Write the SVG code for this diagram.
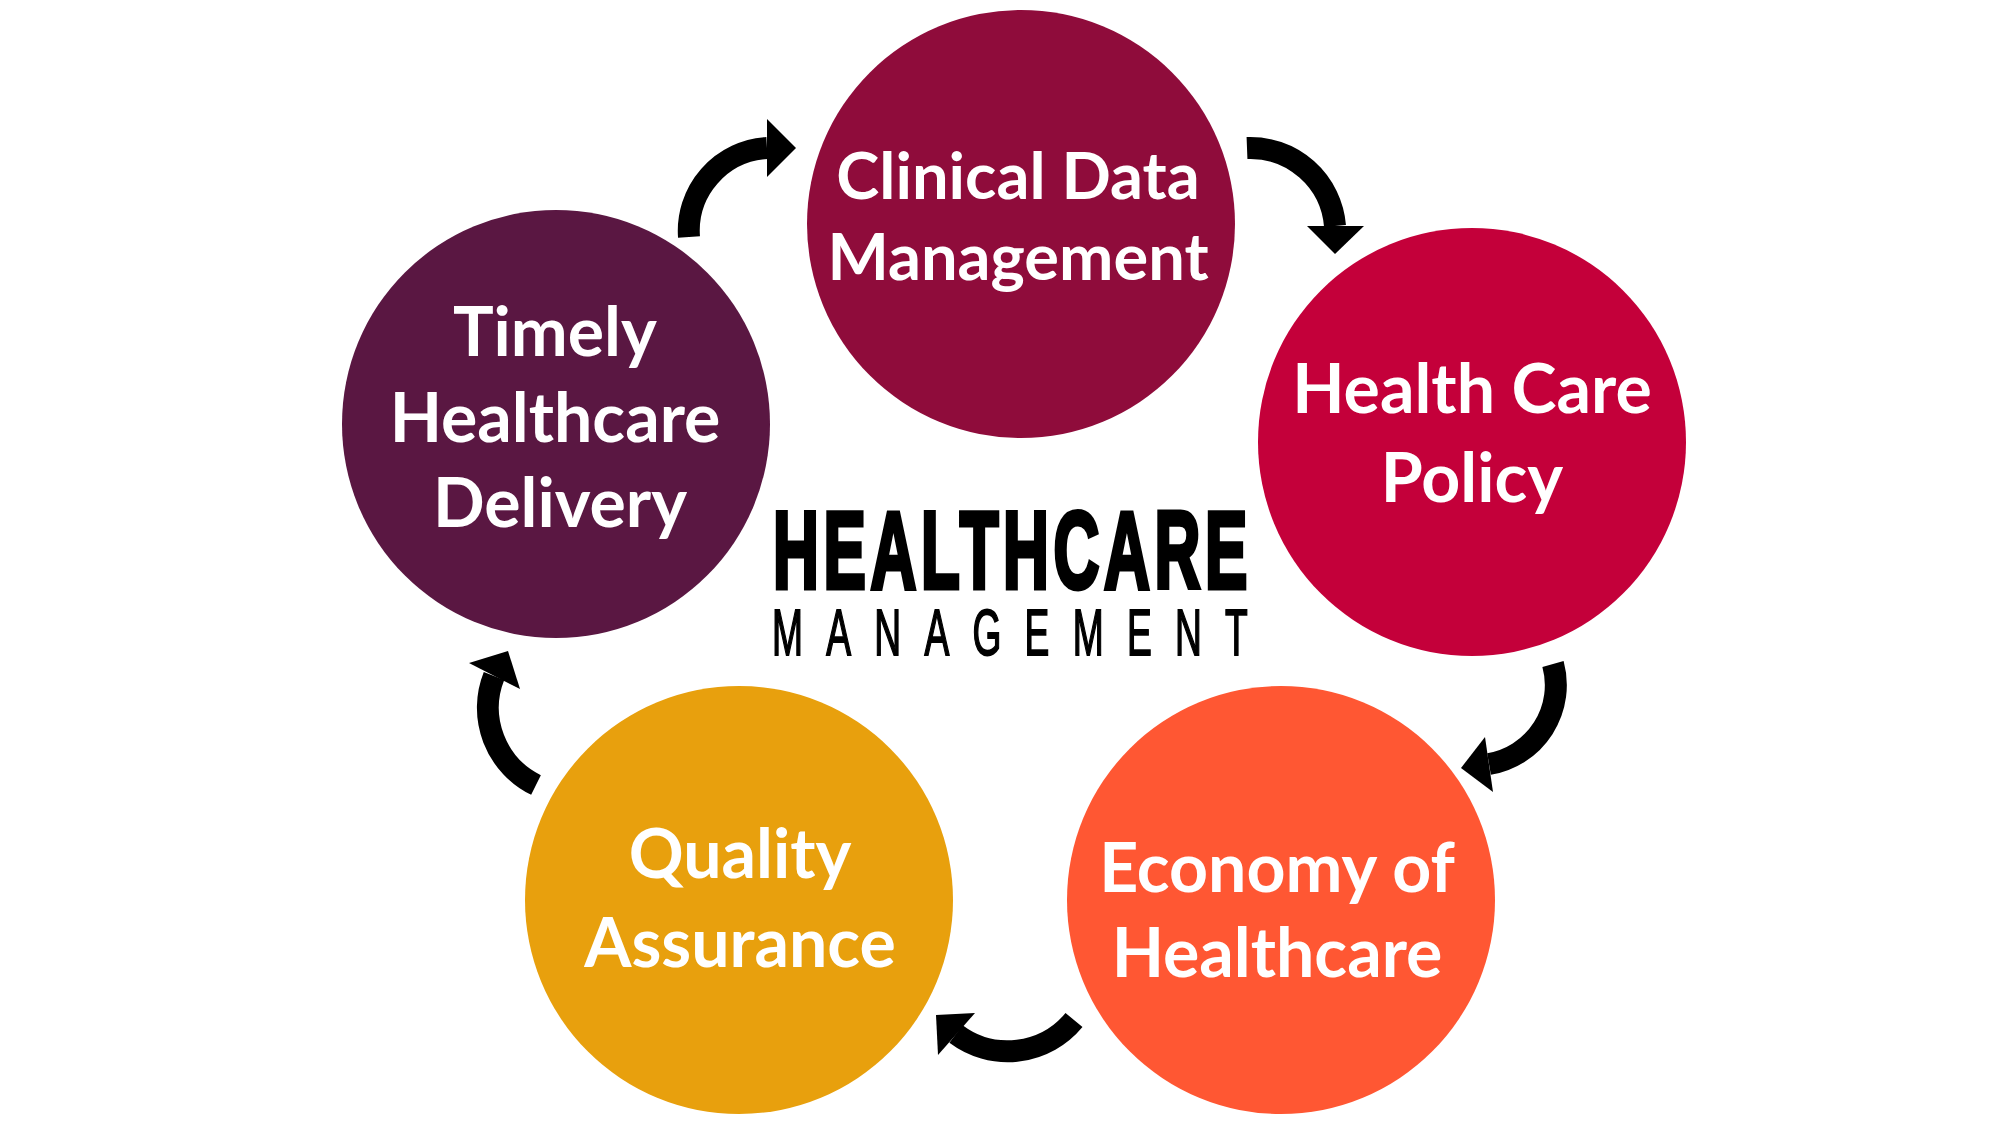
<svg xmlns="http://www.w3.org/2000/svg" width="2000" height="1127" viewBox="0 0 2000 1127">
<style>
.lbl{font-family:Lato,"Open Sans","Liberation Sans",sans-serif;font-weight:700;font-size:68px;fill:#ffffff;text-anchor:middle}
.arc{fill:none;stroke:#000;stroke-width:22;stroke-linecap:butt}
.head{fill:#000}
.t1{font-family:"Liberation Sans",Arial,sans-serif;font-weight:700;fill:#000;stroke:#000;stroke-width:5;stroke-linejoin:miter}
.t2{font-family:"Liberation Sans",Arial,sans-serif;font-weight:400;fill:#000;stroke:#000;stroke-width:1.8}
</style>
<rect width="2000" height="1127" fill="#ffffff"/>
<g id="connectors">
<path class="arc" d="M689,237 A83,83 0 0 1 767,148"/>
<polygon class="head" points="767,119 796,148 767,177"/>
<path class="arc" d="M1247,148 A85,85 0 0 1 1335,226"/>
<polygon class="head" points="1307,226 1335,254 1364,226"/>
<path class="arc" d="M1553,664 A80,80 0 0 1 1489,764"/>
<polygon class="head" points="1485,737 1461,768 1493,792"/>
<path class="arc" d="M1074,1020 A86,86 0 0 1 956,1034"/>
<polygon class="head" points="975,1013 936,1015 938,1055"/>
<path class="arc" d="M536,785 A86,86 0 0 1 494,676"/>
<polygon class="head" points="469,663 508,651 520,689"/>
</g>
<g id="node-clinical">
<circle cx="1021" cy="224" r="214" fill="#8f0c3b"/>
<text class="lbl" x="1018" y="199" style="font-size:65px">Clinical Data</text>
<text class="lbl" x="1018" y="280" style="font-size:65px">Management</text>
</g>
<g id="node-policy">
<circle cx="1472" cy="442" r="214" fill="#c4003a"/>
<text class="lbl" x="1472" y="413">Health Care</text>
<text class="lbl" x="1472" y="502">Policy</text>
</g>
<g id="node-economy">
<circle cx="1281" cy="900" r="214" fill="#ff5733"/>
<text class="lbl" x="1277" y="892">Economy of</text>
<text class="lbl" x="1277" y="977">Healthcare</text>
</g>
<g id="node-quality">
<circle cx="739" cy="900" r="214" fill="#e8a00d"/>
<text class="lbl" x="740" y="878">Quality</text>
<text class="lbl" x="740" y="967">Assurance</text>
</g>
<g id="node-timely">
<circle cx="556" cy="424" r="214" fill="#5a1742"/>
<text class="lbl" x="555" y="356">Timely</text>
<text class="lbl" x="555" y="442">Healthcare</text>
<text class="lbl" x="560" y="527">Delivery</text>
</g>
<g id="title">
<text class="t1" x="773" y="588" font-size="110" letter-spacing="8" textLength="479" lengthAdjust="spacingAndGlyphs">HEALTHCARE</text>
<text class="t2" x="772" y="655" font-size="64" letter-spacing="40" textLength="499" lengthAdjust="spacingAndGlyphs">MANAGEMENT</text>
</g>
</svg>
